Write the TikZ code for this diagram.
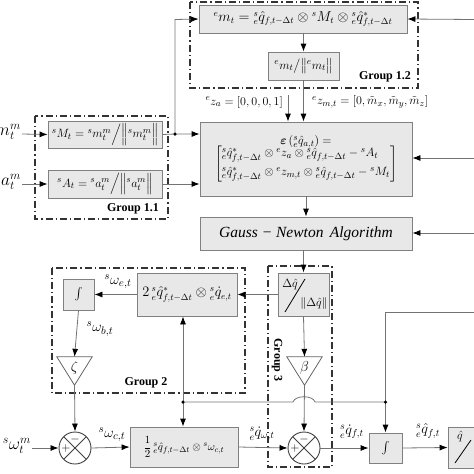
\documentclass[tikz,border=0pt]{standalone}
\usepackage{amsmath}
\usepackage{fontspec}
\setmainfont{Liberation Serif}
\usetikzlibrary{arrows.meta,calc}
\begin{document}
\begin{tikzpicture}[x=1pt,y=-1pt,
  blk/.style={draw=black!50, fill=black!9, line width=0.8pt, inner sep=1pt, font=\fontsize{12.5}{14}\selectfont},
  conn/.style={draw=black!55, line width=0.8pt, -{Latex[length=8pt,width=6pt,color=black]}},
  wire/.style={draw=black!55, line width=0.8pt},
  grp/.style={draw=black!80, line width=1.3pt, dash pattern=on 7pt off 3pt on 1.2pt off 3pt},
  glabel/.style={font=\bfseries\fontsize{12}{13}\selectfont, inner sep=0pt},
  lbl/.style={font=\fontsize{12.5}{13}\selectfont, inner sep=0pt},
  inlbl/.style={font=\fontsize{17}{18}\selectfont, inner sep=0pt, anchor=east},
  jdot/.style={circle, fill=black, inner sep=0pt, minimum size=3.5pt},
  sumj/.style={circle, draw=black!75, line width=0.9pt, minimum size=32pt, inner sep=0pt,
    path picture={\draw[black!75, line width=0.9pt] (path picture bounding box.north west) -- (path picture bounding box.south east)
      (path picture bounding box.north east) -- (path picture bounding box.south west);}},
  tri/.style={minimum width=35pt, minimum height=28pt, inner sep=0pt, font=\fontsize{14}{15}\selectfont},
]
\useasboundingbox (0,0) rectangle (474,474);
\clip (0,0) rectangle (474,474);

% groups
\draw[grp] (190,2) rectangle (418,88);
\draw[grp] (35,116) rectangle (168,219);
\draw[grp] (52,268) rectangle (245,393);
\draw[grp] (268,266) rectangle (332,467);
\node[glabel] (g12) at (385,77) {Group 1.2};
\node[glabel] (g11) at (133,209) {Group 1.1};
\node[glabel] (g2) at (146,383) {Group 2};
\node[glabel, rotate=-90] (g3) at (277,360) {Group 3};

% blocks
\node[blk, minimum width=208pt, minimum height=28pt, font=\fontsize{13.5}{15}\selectfont] (top) at (303,19)
  {${}^{e}m_t={}^{s}_{e}\hat q_{f,t-\Delta t}\otimes{}^{s}M_t\otimes{}^{s}_{e}\hat q^{*}_{f,t-\Delta t}$};
\node[blk, minimum width=71pt, minimum height=28pt, font=\fontsize{13}{14}\selectfont] (nrm) at (303.5,66)
  {${}^{e}m_t\big/\big\|{}^{e}m_t\big\|$};
\node[blk, minimum width=212pt, minimum height=74pt, align=center, inner sep=0pt] (eps) at (306,159)
  {$\boldsymbol{\varepsilon}\left({}^{s}_{e}\hat q_{a,t}\right)=$\\[-3pt]
   $\left[\begin{array}{@{}l@{}}
   {}^{s}_{e}\hat q^{*}_{f,t-\Delta t}\otimes{}^{e}z_a\otimes{}^{s}_{e}\hat q_{f,t-\Delta t}-{}^{s}A_t\\[5pt]
   {}^{s}_{e}\hat q^{*}_{f,t-\Delta t}\otimes{}^{e}z_{m,t}\otimes{}^{s}_{e}\hat q_{f,t-\Delta t}-{}^{s}M_t
   \end{array}\right]$};
\node[blk, minimum width=212pt, minimum height=33pt, font=\itshape\fontsize{15.5}{16}\selectfont] (gn) at (306,233.5)
  {Gauss − Newton\, Algorithm};
\node[blk, minimum width=114pt, minimum height=27pt, font=\fontsize{12.8}{14}\selectfont] (sM) at (105,134.5)
  {${}^{s}M_t={}^{s}m^{m}_t\Big/\Big\|{}^{s}m^{m}_t\Big\|$};
\node[blk, minimum width=114pt, minimum height=28pt, font=\fontsize{12.8}{14}\selectfont] (sA) at (105,184)
  {${}^{s}A_t={}^{s}a^{m}_t\Big/\Big\|{}^{s}a^{m}_t\Big\|$};
\node[blk, minimum width=31pt, minimum height=31pt, font=\fontsize{13}{14}\selectfont] (int1) at (78.5,294.5) {$\int$};
\node[blk, minimum width=100pt, minimum height=43pt, font=\fontsize{13.5}{15}\selectfont] (twoq) at (187,294.5)
  {$2\,{}^{s}_{e}\hat q^{*}_{f,t-\Delta t}\otimes{}^{s}_{e}\dot q_{e,t}$};
\node[blk, minimum width=51pt, minimum height=43pt] (dq) at (303.5,294.5) {};
\node[tri] (zeta) at (74.5,371) {};
\node[tri] (beta) at (304.5,371) {};
\node[sumj] (sum1) at (75,448) {};
\node[blk, minimum width=108pt, minimum height=40pt, font=\fontsize{11}{12}\selectfont] (half) at (184,447)
  {$\dfrac{1}{2}\,{}^{s}_{e}\hat q_{f,t-\Delta t}\otimes{}^{s}\omega_{c,t}$};
\node[sumj] (sum2) at (304,448) {};
\node[blk, minimum width=33pt, minimum height=30pt, font=\fontsize{13}{14}\selectfont] (int2) at (385.5,448) {$\int$};
\node[blk, minimum width=56pt, minimum height=41pt] (fin) at (476,447.5) {};

% contents of normalisation blocks
\node[inner sep=0pt, font=\fontsize{11.5}{12}\selectfont] (dqa) at (290,284) {$\Delta\hat q$};
\node[inner sep=0pt, font=\fontsize{11.5}{12}\selectfont] (dqb) at (314,303) {$\|\Delta\hat q\|$};
\draw[line width=0.8pt] (285,312) -- (305,279);
\node[inner sep=0pt, font=\fontsize{12}{13}\selectfont] (fqa) at (460,436) {$\hat q$};
\node[inner sep=0pt, font=\fontsize{12}{13}\selectfont] (fqb) at (484,454) {$\|\hat q\|$};
\draw[line width=0.8pt] (455,463) -- (471,440);

% triangles
\draw[black!60, fill=white, line width=0.8pt] (zeta.north west) -- (zeta.north east) -- (zeta.south) -- cycle;
\draw[black!60, fill=white, line width=0.8pt] (beta.north west) -- (beta.north east) -- (beta.south) -- cycle;
\node[tri] (zetat) at ([yshift=3pt]zeta.center) {$\zeta$};
\node[tri] (betat) at ([yshift=3pt]beta.center) {$\beta$};

% signs in summing junctions
\foreach \s in {sum1,sum2}{
  \node[inner sep=0pt, font=\bfseries\fontsize{13}{13}\selectfont] at ([yshift=9pt]\s.center) {$-$};
  \node[inner sep=0pt, font=\fontsize{12}{12}\selectfont] at ([xshift=-9pt]\s.center) {$+$};
}

% inputs
\node[inlbl] (im) at (21,132) {${}^{s}m^{m}_t$};
\node[inlbl] (ia) at (21,182) {${}^{s}a^{m}_t$};
\node[inlbl] (iw) at (31,446) {${}^{s}\omega^{m}_t$};
\coordinate (im0) at (22,134);
\coordinate (ia0) at (22,184);
\coordinate (iw0) at (32,448);
\draw[conn] (im0) -- (sM.west);
\draw[conn] (ia0) -- (sA.west);
\draw[conn] (iw0) -- (sum1.west);

% group 1 connections
\coordinate (j1) at (175,134);
\draw[conn] (sM.east) -- (j1) -- (eps.west |- j1);
\draw[conn] (j1) -- (175,19.5) -- (top.west);
\node[jdot] at (j1) {};
\draw[conn] (sA.east) -- (sA.east -| eps.west);
\coordinate (rt1) at (474,19.5);
\coordinate (rt2) at (474,158);
\coordinate (rt3) at (474,233);
\draw[conn] (rt1) -- (top.east);
\draw[conn] (rt2) -- (rt2 -| eps.east);
\draw[conn] (rt3) -- (rt3 -| gn.east);
\draw[conn] (top.south -| nrm.north) -- (nrm.north);
\draw[conn] (nrm.south) -- (nrm.south |- eps.north);
\coordinate (za0) at (288,95);
\draw[conn] (za0) -- (za0 |- eps.north);
\node[lbl, anchor=east] (zal) at (283,102) {${}^{e}z_a=[0,0,0,1]$};
\node[lbl, anchor=west] (zml) at (312,102) {${}^{e}z_{m,t}=[0,\tilde m_x,\tilde m_y,\tilde m_z]$};
\draw[conn] (eps.south -| gn.north) -- (gn.north);
\draw[conn] (gn.south -| dq.north) -- (dq.north);

% group 2 / 3
\draw[conn] (dq.west) -- (twoq.east);
\draw[conn] (twoq.west) -- (int1.east);
\draw[conn] (int1.south) -- (zeta.north);
\draw[conn] (zeta.south) -- (sum1.north);
\draw[conn] (sum1.east) -- (half.west);
\draw[conn] (half.east) -- (sum2.west);
\draw[conn] (dq.south) -- (beta.north);
\draw[conn] (beta.south) -- (sum2.north);
\draw[conn] (sum2.east) -- (int2.west);
\draw[conn] (int2.east) -- (fin.west);
\node[lbl, font=\fontsize{15}{16}\selectfont] (lwe) at (118,282) {${}^{s}\omega_{e,t}$};
\node[lbl, font=\fontsize{15}{16}\selectfont] (lwb) at (100,329) {${}^{s}\omega_{b,t}$};
\node[lbl, font=\fontsize{15}{16}\selectfont] (lwc) at (112,435) {${}^{s}\omega_{c,t}$};
\node[lbl, font=\fontsize{14}{15}\selectfont] (lqw) at (262,434) {${}^{s}_{e}\dot q_{\omega,t}$};
\node[lbl, font=\fontsize{14}{15}\selectfont] (lqf) at (352,432) {${}^{s}_{e}\dot q_{f,t}$};
\node[lbl, font=\fontsize{14}{15}\selectfont] (lqh) at (428,431) {${}^{s}_{e}\hat q_{f,t}$};

% feedback
\coordinate (rt4) at (474,312);
\coordinate (j2) at (385.5,402);
\coordinate (j3) at (183,402);
\draw[wire] (rt4) -- (j2 |- rt4) -- (j2);
\draw[conn] (j2) -- (int2.north);
\draw[wire] (j2) -- (315,402) .. controls (313,395) and (295,395) .. (293,402) -- (j3);
\draw[conn] (j3) -- (j3 |- half.north);
\draw[conn] (j3) -- (j3 |- twoq.south);
\node[jdot] at (j2) {};
\node[jdot] at (j3) {};
\end{tikzpicture}
\end{document}
